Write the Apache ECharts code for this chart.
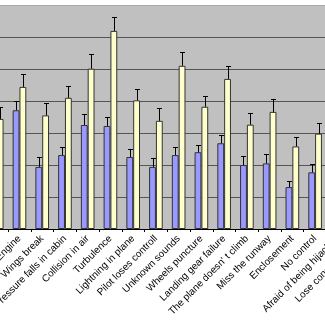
<!DOCTYPE html>
<html>
<head>
<meta charset="utf-8">
<script src="https://cdn.jsdelivr.net/npm/echarts@6/dist/echarts.min.js"></script>
<style>
html,body{margin:0;padding:0;background:#fff;overflow:hidden;width:325px;height:325px;}
#chart{position:absolute;left:-40px;top:0;width:460px;height:325px;}
</style>
</head>
<body>
<div id="chart"></div>
<script>
var categories = ["", "Engine", "Wings break", "Pressure falls in cabin", "Collision in air", "Turbulence",
  "Lightning in plane", "Pilot loses controll", "Unknown sounds", "Wheels puncture", "Landing gear failure",
  "The plane doesn' t climb", "Miss the runway", "Enclosement", "No control", "Afraid of being hijacked", "Lose consciousness"];
var blueValues   = [2.00, 3.71, 1.94, 2.31, 3.25, 3.22, 2.25, 1.94, 2.31, 2.40, 2.68, 2.00, 2.05, 1.31, 1.77, 1.90, 2.00];
var blueErrors   = [0.25, 0.30, 0.30, 0.24, 0.33, 0.29, 0.24, 0.27, 0.26, 0.24, 0.25, 0.28, 0.28, 0.18, 0.26, 0.25, 0.25];
var yellowValues = [3.44, 4.44, 3.55, 4.10, 5.01, 6.19, 4.02, 3.38, 5.10, 3.82, 4.69, 3.26, 3.66, 2.58, 2.98, 3.20, 3.40];
var yellowErrors = [0.37, 0.39, 0.40, 0.38, 0.45, 0.44, 0.34, 0.39, 0.42, 0.35, 0.40, 0.37, 0.39, 0.29, 0.34, 0.35, 0.35];
var yTicks = [0, 1, 2, 3, 4, 5, 6, 7];

var chart = echarts.init(document.getElementById('chart'));

function errData(vals, errs, side) {
  return vals.map(function (v, i) { return [i, v, errs[i], side]; });
}
function renderErr(params, api) {
  var idx = api.value(0), v = api.value(1), e = api.value(2), side = api.value(3);
  var base = api.coord([idx, v]);
  var top = api.coord([idx, v + e]);
  var bw = api.size([1, 0])[0] * 0.30;
  var x = Math.round(base[0] + side * bw / 2) + 0.5;
  var ty = Math.round(top[1]) + 0.5;
  var style = {stroke: '#000', lineWidth: 1};
  return {
    type: 'group',
    children: [
      {type: 'line', shape: {x1: x, y1: base[1], x2: x, y2: ty}, style: style},
      {type: 'line', shape: {x1: x - 2.5, y1: ty, x2: x + 2.5, y2: ty}, style: style}
    ]
  };
}

chart.setOption({
  animation: false,
  grid: {left: 25.36, width: 386.6, top: 5, height: 224, backgroundColor: '#C0C0C0', show: true, borderWidth: 0,
    containLabel: false, outerBoundsMode: 'none'},
  xAxis: {
    type: 'category',
    data: categories,
    axisLine: {lineStyle: {color: '#000', width: 1}},
    axisTick: {show: true, length: 3, lineStyle: {color: '#000'}},
    axisLabel: {rotate: 45, interval: 0, fontSize: 10, fontFamily: 'Liberation Sans', color: '#000', margin: 8}
  },
  yAxis: {
    type: 'value',
    min: yTicks[0], max: yTicks[yTicks.length - 1], interval: 1,
    axisLine: {show: false}, axisTick: {show: false}, axisLabel: {show: false},
    splitLine: {lineStyle: {color: ['#555', '#555', '#555', '#555', '#555', '#555', '#555', '#a8a8a8'], width: 1}}
  },
  series: [
    {type: 'bar', data: blueValues, barWidth: '30%', barGap: '0%',
      itemStyle: {color: '#9999FF', borderColor: '#333', borderWidth: 1}},
    {type: 'bar', data: yellowValues, barWidth: '30%', barGap: '0%',
      itemStyle: {color: '#FFFFCC', borderColor: '#333', borderWidth: 1}},
    {type: 'custom', data: errData(blueValues, blueErrors, -1), renderItem: renderErr, encode: {x: 0, y: 1}, z: 5},
    {type: 'custom', data: errData(yellowValues, yellowErrors, 1), renderItem: renderErr, encode: {x: 0, y: 1}, z: 5}
  ]
});
</script>
</body>
</html>
